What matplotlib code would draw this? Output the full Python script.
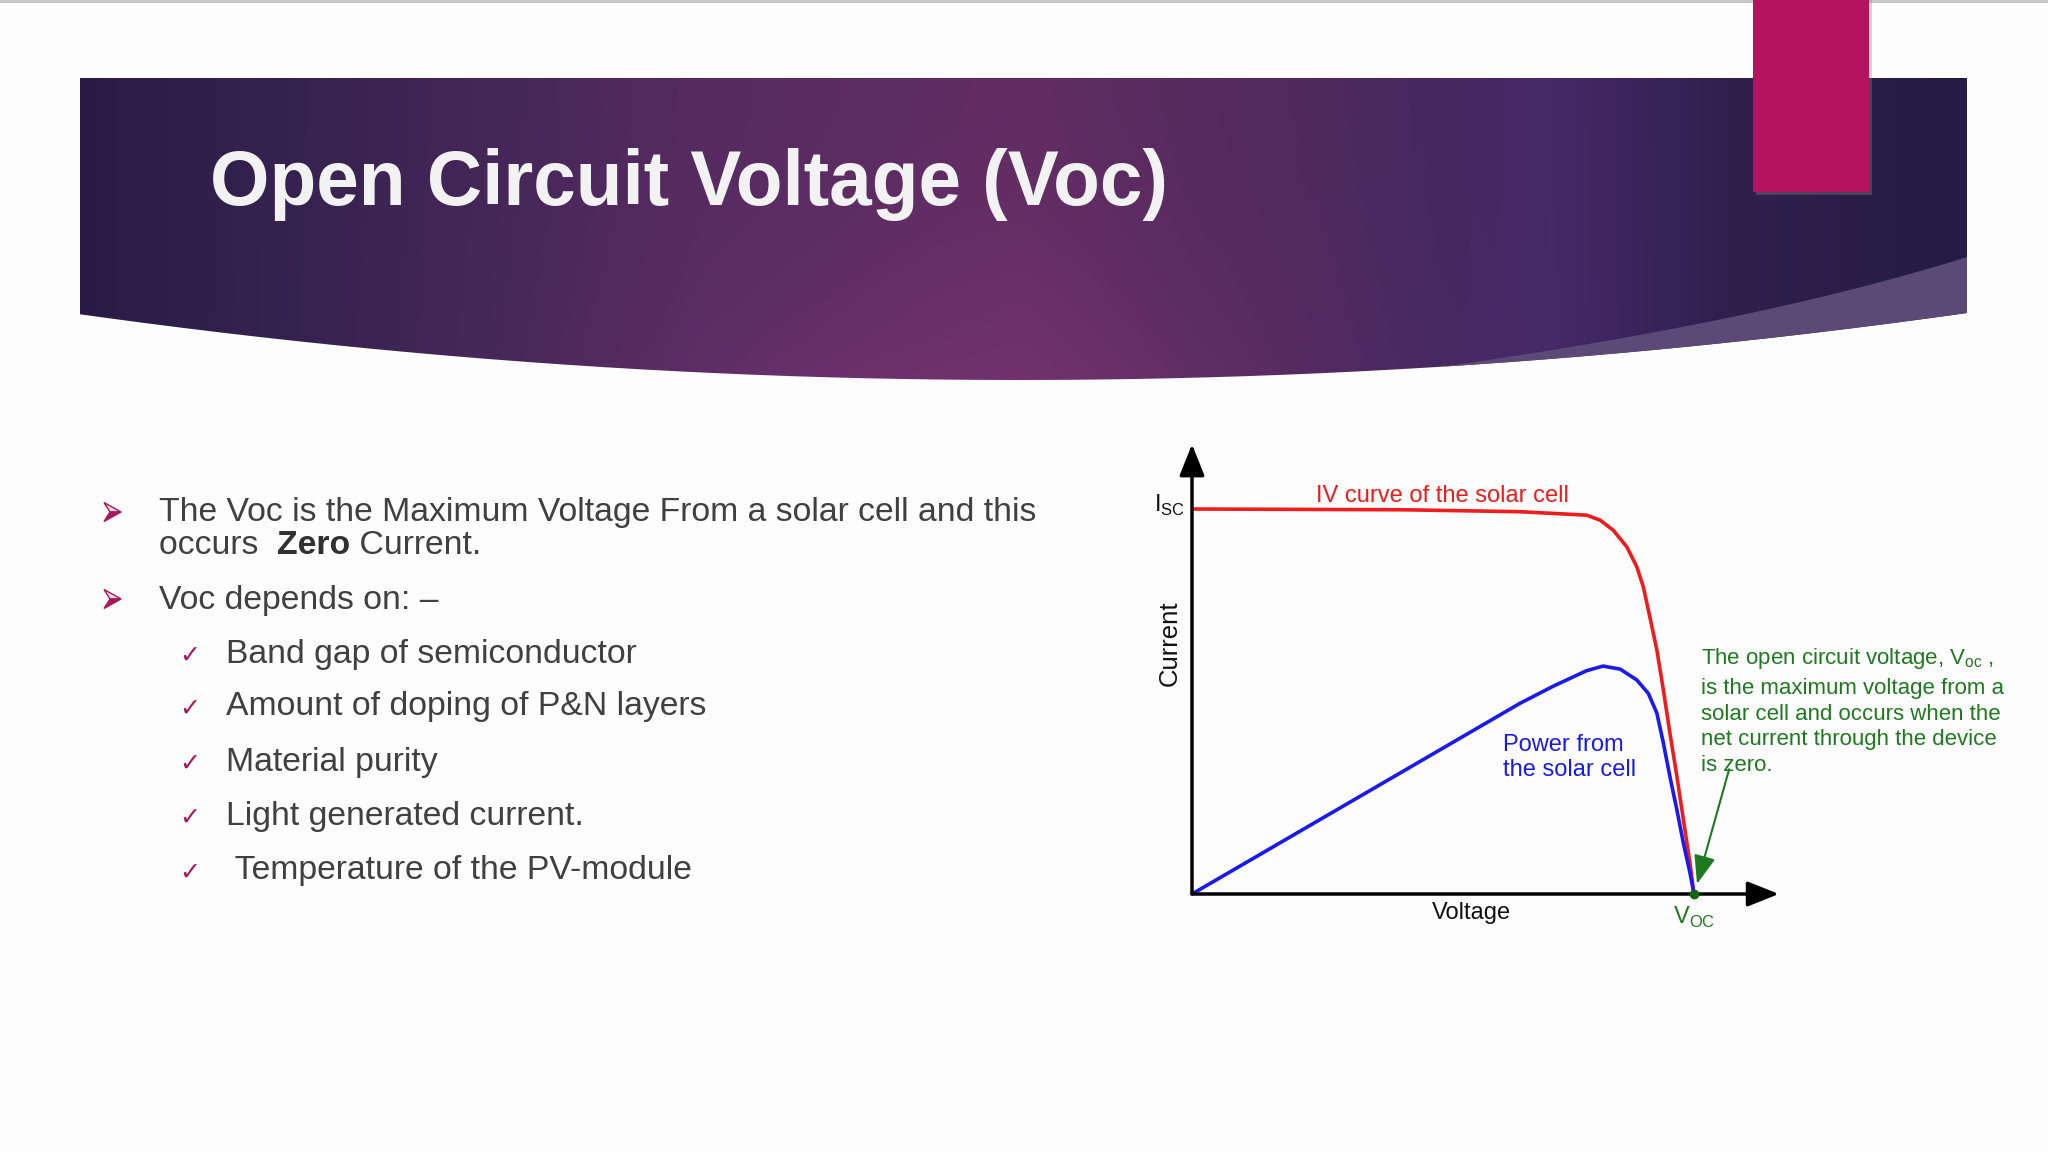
import numpy as np
import matplotlib
matplotlib.use("Agg")
import matplotlib.pyplot as plt
from matplotlib.path import Path
from matplotlib.patches import PathPatch, Rectangle, Polygon
from matplotlib.colors import to_rgb

plt.rcParams['font.family'] = ['Liberation Sans', 'DejaVu Sans']

# ---- data (normalised: Voc = 1, Isc = 1) ----
iv_voltage = [0.0, 0.42, 0.653, 0.786, 0.813, 0.839, 0.866, 0.886, 0.899, 0.912, 0.926,
              0.939, 0.952, 0.966, 0.979, 0.992, 1.0]
iv_current = [1.0, 0.998, 0.993, 0.984, 0.971, 0.945, 0.902, 0.850, 0.798, 0.720, 0.634,
              0.530, 0.418, 0.305, 0.192, 0.080, 0.0]

pw_voltage = [0.0, 0.653, 0.720, 0.786, 0.819, 0.853, 0.886, 0.909, 0.926, 0.939, 0.952,
              0.966, 0.979, 0.992, 1.0]
pw_power = [0.0, 0.495, 0.540, 0.580, 0.592, 0.584, 0.556, 0.521, 0.470, 0.392, 0.305,
            0.218, 0.131, 0.055, 0.0]

title = "Open Circuit Voltage (Voc)"
sub_items = ["Band gap of semiconductor",
             "Amount of doping of P&N layers",
             "Material purity",
             "Light generated current.",
             " Temperature of the PV-module"]
green_note = [r"The open circuit voltage, V$_\mathregular{oc}$ ,",
              "is the maximum voltage from a",
              "solar cell and occurs when the",
              "net current through the device",
              "is zero."]

W, H = 2048, 1152
fig = plt.figure(figsize=(20.48, 11.52), dpi=100)
fig.patch.set_facecolor('#fdfdfd')

bg = fig.add_axes([0, 0, 1, 1])
bg.set_xlim(0, W)
bg.set_ylim(H, 0)
bg.axis('off')

# top grey border
bg.add_patch(Rectangle((0, 0), W, 2.5, color='#c8c8c8', lw=0))

# ---- banner with gradient ----
x0, x1, ytop = 80, 1967, 78
xs = np.linspace(x0, x1, 200)
ybot = 313 + 67 * (1 - ((xs - 1019) / 948) ** 2)
verts = [(x0, ytop), (x1, ytop)] + list(zip(xs[::-1], ybot[::-1])) + [(x0, ytop)]
banner_path = Path(verts)

stops = [(0.00, '#281c46'), (0.15, '#3b2453'), (0.33, '#562b61'), (0.50, '#622d63'),
         (0.62, '#532a5e'), (0.72, '#46285f'), (0.78, '#452968'), (0.88, '#2f1f4c'),
         (1.00, '#241c45')]
pos = np.array([s[0] for s in stops])
cols = np.array([to_rgb(s[1]) for s in stops])
nx, ny = 400, 120
u = np.linspace(0, 1, nx)
base = np.stack([np.interp(u, pos, cols[:, k]) for k in range(3)], axis=-1)
img = np.repeat(base[None, :, :], ny, axis=0)
vv = np.linspace(0, 1, ny)[:, None]
glow = np.exp(-((u[None, :] - 0.47) / 0.18) ** 2) * vv ** 2
img = img + glow[..., None] * np.array([0.07, 0.02, 0.05])
img = np.clip(img, 0, 1)
im = bg.imshow(img, extent=[x0, x1, 385, ytop], aspect='auto', zorder=1)
clip = PathPatch(banner_path, transform=bg.transData, facecolor='none', edgecolor='none')
bg.add_patch(clip)
im.set_clip_path(clip)

# lighter wedge at bottom right
xw = np.linspace(1440, 1967, 80)
yw_low = 313 + 67 * (1 - ((xw - 1019) / 948) ** 2)
t = np.linspace(0, 1, 80)
bx = (1 - t) ** 2 * 1440 + 2 * (1 - t) * t * 1760 + t ** 2 * 1967
by = (1 - t) ** 2 * 367 + 2 * (1 - t) * t * 322 + t ** 2 * 257
wedge = list(zip(bx, by)) + list(zip(xw[::-1], yw_low[::-1]))
bg.add_patch(Polygon(wedge, closed=True, facecolor='#5b4a78', edgecolor='none', zorder=2))

# pink tab
bg.add_patch(Rectangle((1756, 0), 116, 195, color='#8a8a8a', alpha=0.35, lw=0, zorder=3))
bg.add_patch(Rectangle((1753, 0), 116, 192, color='#b5135f', lw=0, zorder=4))

bg.text(210, 205, title, color='#f2f2f2', fontsize=55.1, fontweight='bold',
        va='baseline', ha='left', zorder=5)

# ---- bullets ----
txt_col = '#404040'
mark_col = '#a8175e'
fs = 24.3
renderer = fig.canvas.get_renderer()


def arrow_bullet(yc):
    # two-tone arrowhead bullet like the slide theme
    top = [(104, yc - 9.5), (121, yc), (110, yc)]
    low = [(104, yc + 9.5), (121, yc), (110, yc)]
    bg.add_patch(Polygon(top, closed=True, facecolor='#f4dbe6', edgecolor=mark_col, lw=1.0, zorder=3))
    bg.add_patch(Polygon(low, closed=True, facecolor=mark_col, edgecolor=mark_col, lw=1.0, zorder=3))


arrow_bullet(512)
bg.text(159, 513, 'The Voc is the Maximum Voltage From a solar cell and this',
        color=txt_col, fontsize=fs, va='center', ha='left')
t1 = bg.text(159, 545, 'occurs  ', color=txt_col, fontsize=fs, va='center', ha='left')
ext = t1.get_window_extent(renderer)
t2 = bg.text(159 + ext.width, 545, 'Zero', color='#303030', fontsize=fs, fontweight='bold',
             va='center', ha='left')
ext2 = t2.get_window_extent(renderer)
bg.text(159 + ext.width + ext2.width, 545, ' Current.', color=txt_col, fontsize=fs,
        va='center', ha='left')

arrow_bullet(599)
bg.text(159, 600, 'Voc depends on: –', color=txt_col, fontsize=fs, va='center', ha='left')

sub_y = [654, 707, 762, 816, 871]
for yy, item in zip(sub_y, sub_items):
    bg.text(179, yy + 2, '✓', color=mark_col, fontsize=18, family=['DejaVu Sans'],
            va='center', ha='left')
    bg.text(226, yy, item, color=txt_col, fontsize=fs, va='center', ha='left')

# ---- IV diagram ----
ox, oy = 1192, 894
ux, uy = 502, 385
lim = 1.2
ax = fig.add_axes([ox / W, (H - oy) / H, lim * ux / W, lim * uy / H])
ax.set_xlim(0, lim)
ax.set_ylim(0, lim)
ax.axis('off')
ax.patch.set_alpha(0)

narrow = ['Liberation Sans Narrow', 'Liberation Sans', 'DejaVu Sans']
green = '#1f7a1f'

ax.plot(iv_voltage, iv_current, color='#ee1c1c', lw=2.6, solid_capstyle='round',
        solid_joinstyle='round', zorder=3)
ax.plot(pw_voltage, pw_power, color='#1a1aee', lw=2.6, solid_capstyle='round',
        solid_joinstyle='round', zorder=3)

arrow_kw = dict(arrowstyle='-|>,head_length=0.8,head_width=0.32', color='black', lw=2.5,
                shrinkA=0, shrinkB=0, mutation_scale=24)
ax.annotate('', xy=(1.169, 0), xytext=(0, 0), arrowprops=arrow_kw, annotation_clip=False, zorder=4)
ax.annotate('', xy=(0, 1.168), xytext=(0, 0), arrowprops=arrow_kw, annotation_clip=False, zorder=4)

ax.text(0.499, 1.034, 'IV curve of the solar cell', color='#ee1c1c', fontsize=17,
        family=narrow, ha='center', va='center', clip_on=False)
ax.text(0.62, 0.355, 'Power from\nthe solar cell', color='#1a1aee', fontsize=17,
        family=narrow, ha='left', va='center', linespacing=1.15, clip_on=False)
ax.text(0.557, -0.05, 'Voltage', color='#111111', fontsize=17, family=narrow,
        ha='center', va='center', clip_on=False)
ax.text(-0.044, 0.65, 'Current', color='#111111', fontsize=18.5, rotation=90,
        ha='center', va='center', clip_on=False)
ax.text(-0.044, 1.01, r'I$_\mathregular{SC}$', color='#111111', fontsize=17, family=narrow,
        ha='center', va='center', clip_on=False)
ax.text(1.0, -0.06, r'V$_\mathregular{OC}$', color=green, fontsize=17, family=narrow,
        ha='center', va='center', clip_on=False)

ax.plot([1.0], [0.0], 'o', color='#116611', ms=6, zorder=5, clip_on=False)
ax.annotate('', xy=(1.006, 0.026), xytext=(1.07, 0.324),
            arrowprops=dict(arrowstyle='-|>,head_length=0.8,head_width=0.3', color=green, lw=1.5,
                            shrinkA=0, shrinkB=0, mutation_scale=22),
            annotation_clip=False, zorder=5)

note_y = [0.612, 0.534, 0.467, 0.402, 0.335]
for yy, line in zip(note_y, green_note):
    ax.text(1.014, yy, line, color=green, fontsize=16, family=narrow,
            ha='left', va='center', clip_on=False)

fig.savefig('out.png', dpi=100, facecolor=fig.get_facecolor())
